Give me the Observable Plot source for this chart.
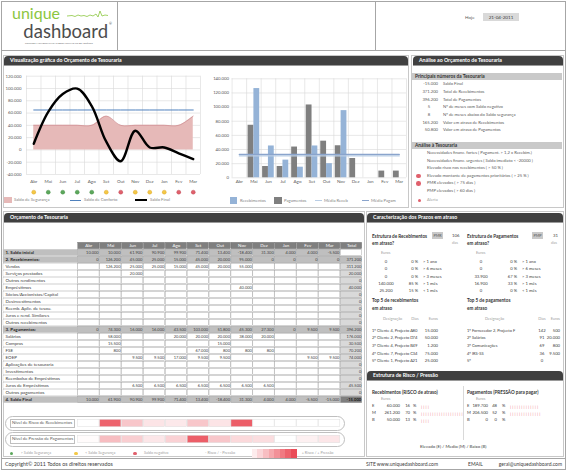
<!DOCTYPE html>
<html lang="pt"><head><meta charset="utf-8">
<script src="https://cdn.jsdelivr.net/npm/d3@7"></script>
<script src="https://cdn.jsdelivr.net/npm/@observablehq/plot@0.6"></script>
<style>
html,body{margin:0;padding:0;background:#fff}
#root{position:relative;width:567px;height:471px;overflow:hidden;font-family:Lato,"Open Sans",sans-serif;color:#404040;background:#fff}
.a{position:absolute;white-space:nowrap;line-height:1}
.p{position:absolute;box-sizing:border-box}
.p svg{overflow:visible;display:block;max-width:none !important}
</style></head><body><div id="root"></div>
<script>
// ---------- DATA ----------
const months = ["Abr","Mai","Jun","Jul","Ago","Set","Out","Nov","Dez","Jan","Fev","Mar"];
const tableCols = ["Abr","Mai","Jun","Jul","Ago","Set","Out","Nov","Dez","Jan","Fev","Mar","Total"];
const saldoFinal = [10000, 61900, 90900, 99900, 71400, 13400, -18400, 31300, 4000, 4000, -5500, -15000];
const saldoInicial = [10000, 10000, 61900, 90900, 99900, 71400, 13400, -18400, 31300, 4000, 4000, -5500];
const saldoSeguranca = [40000, 40000, 40000, 40000, 40000, 55000, 40000, 40000, 40000, 40000, 40000, 55000];
const saldoConforto = [65000, 65000, 65000, 65000, 65000, 65000, 65000, 65000, 65000, 65000, 65000, 65000];
const recebimentos = [0, 126200, 45000, 25000, 15000, 45000, 20000, 95000, 0, 0, 0, 0];
const pagamentos = [0, 74300, 16000, 16000, 43500, 103000, 51800, 45300, 27300, 0, 9500, 9500];
const mediaRecebimentos = 30900;
const mediaPagamentos = 33000;
const y1Ticks = [-40000, -20000, 0, 20000, 40000, 60000, 80000, 100000, 120000];
const y2Ticks = [0, 20000, 40000, 60000, 80000, 100000, 120000, 140000];

const N = null;
const vendas = [N, 126200, 25000, 25000, 15000, 45000, 20000, 55000, N, N, N, N];
const servicosPrestados = [N, N, 20000, N, N, N, N, N, N, N, N, N];
const emprestimos = [N, N, N, N, N, N, N, 40000, N, N, N, N];
const salarios = [N, 58000, N, N, 20000, 20000, 20000, 38000, 20000, N, N, N];
const compras = [N, 15500, N, N, N, N, 15000, N, N, N, N, N];
const fse = [N, 800, N, N, N, 67000, 800, 800, 800, N, N, N];
const eoep = [N, N, 9500, 9500, 17000, 9500, 9500, N, N, N, 9500, 9500];
const jurosEmprestimos = [N, N, 6500, 6500, 6500, 6500, 6500, 6500, 6500, N, N, N];
const vazio = [N, N, N, N, N, N, N, N, N, N, N, N];
const rowLabels = ["1. Saldo inicial","2. Recebimentos:","Vendas","Serviços prestados","Outros rendimentos","Empréstimos","Sócios/Accionistas/Capital","Desinvestimentos","Reemb. Aplic. de tesou.","Juros e rend. Similares","Outros recebimentos","3. Pagamentos:","Salários","Compras","FSE","EOEP","Aplicações de tesouraria","Investimentos","Reembolso de Empréstimos","Juros de Empréstimos","Outros pagamentos","4. Saldo Final"];
const rowValues = [saldoInicial, recebimentos, vendas, servicosPrestados, vazio, emprestimos, vazio, vazio, vazio, vazio, vazio, pagamentos, salarios, compras, fse, eoep, vazio, vazio, vazio, jurosEmprestimos, vazio, saldoFinal];
const rowTotals = [N, 371200, 311200, 20000, 0, 40000, 0, 0, 0, 0, 0, 396200, 176000, 30500, 70200, 74000, 0, 0, 0, 45500, 0, -15000];
const mainRows = [0, 1, 11, 21];

const riscoRecebimentos = [0, 0.82, 0.3, 0.14, 0.12, 0.3, 0.14, 0.85, 0, 0, 0, 0];
const pressaoPagamentos = [0.02, 0.35, 0.26, 0.13, 0.24, 0.85, 0.3, 0.2, 0.18, 0, 0.08, 0.13];

const principaisValores = [-15000, 371200, 396200, 5, 8, 165200, 50800];
const principaisLabels = ["Saldo Final","Total de Recebimentos","Total de Pagamentos","Nº de meses com Saldo negativo","Nº de meses abaixo do Saldo segurança","Valor em atraso de Recebimentos","Valor em atraso de Pagamentos"];
const analiseLabels = ["Necessidades financ. fortes ( Pagament. > 1,2 x Recebim.)","Necessidades financ. urgentes ( Saldo imediato < -20000 )","Elevado risco nos recebimentos ( > 50 % )","Elevado montante de pagamentos prioritários ( > 25 % )","PMR elevados ( > 75 dias )","PMP elevados ( > 60 dias )"];
const analiseAlerta = [false, false, false, true, true, false];
const prazosLabels = ["> 1 ano","> 6 meses","> 3 meses","> 1 mês","< 1 mês"];
const prazosRecebEuros = [0, 0, 0, 140000, 25200];
const prazosRecebPct = [0, 0, 0, 85, 15];
const prazosPagEuros = [0, 0, 33900, 16900, 0];
const prazosPagPct = [0, 0, 67, 33, 0];
const pmr = 106, pmp = 31;
const top5RecebNomes = ["1º Cliente 4, Projecto A","2º Cliente 2, Projecto D","3º Cliente 4, Projecto B","4º Cliente 7, Projecto C","5º Cliente 1, Projecto A"];
const top5RecebDias = [80, 74, 49, 34, 21];
const top5RecebEuros = [15000, 50000, 1200, 75000, 25000];
const top5PagNomes = ["1º Fornecedor 2, Projecto F","2º Salários","3º Comunicações","4º IRS-SS","5º"];
const top5PagDias = [142, 91, 69, 36, 0];
const top5PagEuros = [500, 20000, 800, 9500, N];
const niveis = ["E","M","B"];
const riscoRecebEuros = [60000, 261200, 50000];
const riscoRecebPct = [16, 70, 13];
const pressaoPagEuros = [189700, 206500, 0];
const pressaoPagPct = [48, 52, 0];

// ---------- HELPERS ----------
const loc = d3.formatLocale({decimal: ",", thousands: ".", grouping: [3], currency: ["", "€"], minus: "-"});
const fmt = loc.format(",");
const root = document.getElementById("root");
function T(x, y, s, o = {}) {
  const e = document.createElement("div");
  e.className = "a";
  e.textContent = s;
  e.style.left = x + "px";
  e.style.top = y + "px";
  e.style.fontSize = (o.fs || 4.3) + "px";
  e.style.color = o.c || "#404040";
  if (o.b) e.style.fontWeight = "bold";
  if (o.ls) e.style.letterSpacing = o.ls + "px";
  const ax = o.a === "end" ? "-100%" : o.a === "middle" ? "-50%" : "0";
  e.style.transform = `translate(${ax},-50%)`;
  root.appendChild(e);
  return e;
}
function B(x, y, w, h, css = {}) {
  const e = document.createElement("div");
  e.className = "p";
  Object.assign(e.style, {left: x + "px", top: y + "px", width: w + "px", height: h + "px"}, css);
  root.appendChild(e);
  return e;
}
function H(x, y, w, text) {
  B(x, y, w, 10, {background: "#404040", borderRadius: "4px 4px 0 0", borderBottom: "1px solid #9a9a9a"});
  T(x + 6, y + 5, text, {fs: 5.2, b: true, c: "#fff"});
}
function P(x, y, svg) {
  const w = +svg.getAttribute("width"), h = +svg.getAttribute("height");
  const e = B(x, y, w, h, {overflow: "visible"});
  svg.style.maxWidth = "none";
  svg.style.width = w + "px";
  svg.style.height = h + "px";
  e.appendChild(svg);
}
const plotStyle = {fontFamily: "Lato, sans-serif", fontSize: "4.3px", color: "#595959", background: "none", overflow: "visible"};
const idx = months.map((m, i) => i);

// ---------- FRAMES / HEADER ----------
B(1, 1, 565, 469, {border: "1px solid #a6a6a6"});
B(1, 50, 565, 1, {background: "#a6a6a6"});
B(117, 1, 1, 50, {background: "#a6a6a6"});
B(375, 1, 1, 50, {background: "#a6a6a6"});
B(3, 55, 406, 153, {border: "1px solid #c8c8c8"});
B(411, 55, 153, 153, {border: "1px solid #c8c8c8"});
B(3, 211, 362, 246, {border: "1px solid #c8c8c8"});
B(366, 211, 198, 246, {border: "1px solid #c8c8c8"});
B(1, 458, 565, 1, {background: "#a6a6a6"});

// logo
T(12, 12.5, "unique", {fs: 16, c: "#8cc63f"});
T(108, 31, "dashboard", {fs: 18.5, c: "#4d4d4d", a: "end"});
T(109, 25, "®", {fs: 3.5, c: "#4d4d4d"});
T(25, 42.5, "SOLUÇÕES INOVADORAS PARA O DESENVOLVIMENTO DE NEGÓCIOS", {fs: 2.1, c: "#666"});
const logoSvg = d3.create("svg").attr("width", 42).attr("height", 10);
logoSvg.append("path").attr("d", "M0,7 L5,6.5 L8,7.5 L11,6 L14,7 L17,6.5 L20,7.5 L23,6 L26,7 L29,5 L31,8 L33,2 L35,7 L38,6 L41,6.5").attr("fill", "none").attr("stroke", "#8cc63f").attr("stroke-width", 0.8);
P(67, 9, logoSvg.node());
T(465, 17, "Hoje", {fs: 4.6, c: "#595959"});
B(483, 13, 36, 8, {background: "#d9d9d9"});
T(501, 17, "21-04-2011", {fs: 4.6, c: "#404040", a: "middle"});

// section headers
H(4, 56, 404, "Visualização gráfica do Orçamento de Tesouraria");
H(413, 56, 150, "Análise ao Orçamento de Tesouraria");
H(4, 213, 360, "Orçamento de Tesouraria");
H(367, 213, 196, "Caracterização dos Prazos em  atraso");
H(367, 371, 196, "Estrutura de Risco / Pressão");

// ---------- CHART 1 ----------
const statusColor = i => saldoFinal[i] < 0 ? "#e0606c" : saldoFinal[i] < saldoSeguranca[i] ? "#f3c846" : "#5ca75c";
const statusStroke = i => saldoFinal[i] < 0 ? "#b8404c" : saldoFinal[i] < saldoSeguranca[i] ? "#d9a020" : "#3f8a3f";
const chart1 = Plot.plot({
  width: 205, height: 130, marginLeft: 26, marginRight: 5, marginTop: 7.7, marginBottom: 24,
  style: plotStyle,
  x: {domain: [-0.5, 11.5], axis: null},
  y: {domain: [-40000, 120000], ticks: y1Ticks, tickFormat: fmt, tickSize: 0, tickPadding: 5, label: null},
  color: {type: "identity"},
  marks: [
    Plot.gridY(y1Ticks, {stroke: "#d9d9d9", strokeOpacity: 1, strokeWidth: 0.6}),
    Plot.gridX(d3.range(-0.5, 12, 1), {stroke: "#d9d9d9", strokeOpacity: 1, strokeWidth: 0.6}),
    Plot.areaY(idx, {x: i => i, y: i => saldoSeguranca[i], curve: "catmull-rom", fill: "#e6b9b8"}),
    Plot.lineY(idx, {x: i => i, y: i => saldoSeguranca[i], curve: "catmull-rom", stroke: "#c9868c", strokeWidth: 0.6}),
    Plot.lineY(idx, {x: i => i, y: i => saldoConforto[i], stroke: "#4f81bd", strokeWidth: 1}),
    Plot.lineY(idx, {x: i => i, y: i => saldoFinal[i], curve: "catmull-rom", stroke: "#000", strokeWidth: 2.4}),
    Plot.text(idx, {x: i => i, frameAnchor: "bottom", dy: 8, text: i => months[i], fontSize: 4.5, fill: "#595959"}),
    Plot.dot(idx, {x: i => i, frameAnchor: "bottom", dy: 17.7, r: 2, fill: statusColor, stroke: statusStroke, strokeWidth: 0.4})
  ]
});
P(0, 68, chart1);

// legend chart 1
B(4, 197, 8, 6, {background: "#e6b9b8"});
T(14, 200, "Saldo de Segurança", {fs: 4.2, c: "#7f7f7f"});
B(70, 199.5, 11, 1, {background: "#4f81bd"});
T(84, 200, "Saldo de Conforto", {fs: 4.2, c: "#7f7f7f"});
B(135, 199, 12, 2.2, {background: "#000"});
T(150, 200, "Saldo Final", {fs: 4.2, c: "#7f7f7f"});

// ---------- CHART 2 ----------
const chart2 = Plot.plot({
  width: 203, height: 130, marginLeft: 26.6, marginRight: 2, marginTop: 10.3, marginBottom: 20.7,
  style: plotStyle,
  x: {domain: [-0.5, 11.5], axis: null},
  y: {domain: [0, 140000], ticks: y2Ticks, tickFormat: fmt, tickSize: 0, tickPadding: 3, label: null},
  marks: [
    Plot.gridY(y2Ticks, {stroke: "#d9d9d9", strokeOpacity: 1, strokeWidth: 0.6}),
    Plot.gridX(d3.range(-0.5, 12, 1), {stroke: "#d9d9d9", strokeOpacity: 1, strokeWidth: 0.6}),
    Plot.rectY(idx, {x1: i => i - 0.4, x2: i => i, y: i => pagamentos[i], fill: "#7f7f7f"}),
    Plot.rectY(idx, {x1: i => i, x2: i => i + 0.4, y: i => recebimentos[i], fill: "#95b3d7"}),
    Plot.lineY(idx, {x: i => i, y: () => mediaPagamentos, stroke: "#8aa4cc", strokeWidth: 1.4}),
    Plot.lineY(idx, {x: i => i, y: () => mediaRecebimentos, stroke: "#b9cde5", strokeWidth: 1.2}),
    Plot.text(idx, {x: i => i, frameAnchor: "bottom", dy: 5, text: i => months[i], fontSize: 4.5, fill: "#595959"})
  ]
});
P(205, 68, chart2);

// legend chart 2
B(230, 197, 7, 7, {background: "#95b3d7"});
T(240, 200.5, "Recebimentos", {fs: 4.2, c: "#7f7f7f"});
B(274, 197, 8, 7, {background: "#7f7f7f"});
T(284, 200.5, "Pagamentos", {fs: 4.2, c: "#7f7f7f"});
B(315, 200, 7, 1, {background: "#b9cde5"});
T(324, 200.5, "Média Receb", {fs: 4.2, c: "#7f7f7f"});
B(362, 200, 7, 1, {background: "#8aa4cc"});
T(371, 200.5, "Média Pagam", {fs: 4.2, c: "#7f7f7f"});

// ---------- RIGHT UPPER PANEL ----------
B(412, 72.5, 150, 7, {background: "#c9c9c9"});
T(415, 76, "Principais números da Tesouraria", {fs: 4.8, b: true, c: "#333"});
principaisValores.forEach((v, i) => {
  const y = 84.3 + i * 7.68;
  if (Math.abs(v) < 100) T(429, y, fmt(v), {fs: 4.2, c: "#595959", a: "middle"});
  else T(438, y, fmt(v), {fs: 4.2, c: "#595959", a: "end"});
  T(443, y, principaisLabels[i], {fs: 4.2, c: "#595959"});
});
B(412, 141.5, 150, 7, {background: "#c9c9c9"});
T(415, 145, "Análise à Tesouraria", {fs: 4.8, b: true, c: "#333"});
analiseLabels.forEach((s, i) => {
  const y = 153.3 + i * 7.5;
  if (analiseAlerta[i]) B(416, y - 2.3, 4.6, 4.6, {background: "#e0606c", borderRadius: "50%"});
  T(427, y, s, {fs: 4.2, c: "#595959"});
});
B(417.5, 198.5, 3, 3, {background: "#e0606c", borderRadius: "50%"});
T(427, 200, "Alerta", {fs: 4, c: "#a0a0a0"});

// ---------- TABLE ----------
const yKeys = ["hdr", ...rowLabels];
const isMain = i => mainRows.includes(i);
const cells = [];
rowLabels.forEach((lab, r) => {
  for (let j = 0; j < 13; j++) {
    const value = j < 12 ? rowValues[r][j] : rowTotals[r];
    let fill;
    if (isMain(r)) fill = j === 12 ? (r === 0 ? "#ffffff" : r === 21 ? "#7f7f7f" : "#bfbfbf") : "#bfbfbf";
    else fill = j === 12 ? "#d9d9d9" : "#ffffff";
    cells.push({row: lab, r, j, value, fill, main: isMain(r)});
  }
});
const rowIdx = rowLabels.map((d, i) => i);
const table = Plot.plot({
  width: 365, height: 182, marginLeft: 3, marginRight: 3, marginTop: 4, marginBottom: 1,
  style: plotStyle,
  x: {domain: [-3.4, 13], axis: null},
  y: {type: "band", domain: yKeys, padding: 0, axis: null},
  color: {type: "identity"},
  marks: [
    Plot.barX(rowIdx, {x1: -3.4, x2: 0, y: i => rowLabels[i], fill: i => isMain(i) ? "#bfbfbf" : "#ffffff", stroke: "#c4c4c4", strokeWidth: 0.4, insetTop: 0.4, insetBottom: 0.4}),
    Plot.barX(tableCols.map((c, j) => j), {x1: j => j, x2: j => j + 1, y: () => "hdr", fill: "#7f7f7f", stroke: "#5f5f5f", strokeWidth: 0.3, inset: 0.3}),
    Plot.barX(cells, {x1: d => d.j, x2: d => d.j + 1, y: "row", fill: "fill", stroke: "#a0a0a0", strokeWidth: 0.45, inset: 0.25}),
    Plot.text(tableCols, {x: (d, j) => j + 0.5, y: () => "hdr", text: d => d, fill: "#fff", fontSize: 4.4}),
    Plot.text(cells.filter(d => d.value != null && !(d.r === 21 && d.j === 12)), {x: d => d.j + 1, y: "row", text: d => fmt(d.value), textAnchor: "end", dx: -1.2, fontSize: 4, fill: "#404040"}),
    Plot.text(cells.filter(d => d.r === 21 && d.j === 12), {x: d => d.j + 1, y: "row", text: d => fmt(d.value), textAnchor: "end", dx: -1.2, fontSize: 4.2, fontWeight: "bold", fill: "#1a1a1a"}),
    Plot.text(rowIdx.filter(i => !isMain(i)), {y: i => rowLabels[i], text: i => rowLabels[i], frameAnchor: "left", textAnchor: "start", dx: 2, fontSize: 4.5, fill: "#404040"}),
    Plot.text(rowIdx.filter(i => isMain(i)), {y: i => rowLabels[i], text: i => rowLabels[i], frameAnchor: "left", textAnchor: "start", dx: 2, fontSize: 4.5, fontWeight: "bold", fill: "#262626"})
  ]
});
P(0, 230, table);

// ---------- HEAT STRIPS ----------
B(5, 415.5, 340, 15, {border: "1px solid #bfbfbf", borderRadius: "7.5px"});
B(5, 431.5, 340, 15, {border: "1px solid #bfbfbf", borderRadius: "7.5px"});
B(10, 418.5, 65, 9, {border: "0.8px solid #bfbfbf", background: "#fff"});
B(10, 434.5, 65, 9, {border: "0.8px solid #bfbfbf", background: "#fff"});
T(12, 423, "Nível de Risco de Recebimentos", {fs: 4.3, c: "#595959"});
T(12, 439, "Nível de Pressão de Pagamentos", {fs: 4.3, c: "#595959"});
const stripCells = [];
idx.forEach(j => {
  stripCells.push({k: "risco", j, v: riscoRecebimentos[j]});
  stripCells.push({k: "pressao", j, v: pressaoPagamentos[j]});
});
const heatColor = d3.interpolateRgb("#ffffff", "#e9414d");
const strips = Plot.plot({
  width: 345, height: 32, marginLeft: 77.4, marginRight: 4.9, marginTop: 0, marginBottom: 0,
  style: plotStyle,
  x: {domain: [0, 12], axis: null},
  y: {type: "band", domain: ["risco", "pressao"], range: [4, 28], paddingInner: 0.5, paddingOuter: 0, axis: null},
  color: {type: "linear", domain: [0, 1], range: ["#ffffff", "#e9414d"]},
  marks: [
    Plot.barX(stripCells, {x1: d => d.j, x2: d => d.j + 1, y: "k", fill: "v", stroke: "#dedede", strokeWidth: 0.5, inset: 0.3})
  ]
});
P(0, 415, strips);

// legend row
[["> Saldo Segurança", "#5ca75c", 11.7], ["< Saldo Segurança", "#f3c846", 76], ["Saldo negativo", "#e0606c", 135]].forEach(([s, c, x]) => {
  B(x - 1.8, 451.5, 3.6, 3.6, {background: c, borderRadius: "50%"});
  T(x + 9, 453.3, s, {fs: 3.8, c: "#a0a0a0"});
});
T(205, 453.3, "- Risco / - Pressão", {fs: 3.8, c: "#a0a0a0"});
d3.range(8).forEach(k => B(251.7 + k * 5.62, 449.3, 5.7, 8.4, {background: heatColor(0.1 + k * 0.12)}));
T(301.7, 453.3, "+ Risco / + Pressão", {fs: 3.8, c: "#a0a0a0"});

// ---------- RIGHT BOTTOM PANEL ----------
T(372, 235.5, "Estrutura de Recebimentos", {fs: 4.6, b: true, c: "#333"});
T(372, 243, "em atraso?", {fs: 4.6, b: true, c: "#333"});
B(432, 232, 11, 7, {background: "#c9c9c9"});
T(437.5, 235.5, "PMR", {fs: 3.8, c: "#595959", a: "middle"});
T(452, 235.5, String(pmr), {fs: 4.3, c: "#404040"});
T(452, 244, "dias", {fs: 3.4, c: "#a0a0a0"});
T(467, 235.5, "Estrutura de Pagamentos", {fs: 4.6, b: true, c: "#333"});
T(467, 243, "em atraso?", {fs: 4.6, b: true, c: "#333"});
B(532, 232, 11, 7, {background: "#c9c9c9"});
T(537.5, 235.5, "PMP", {fs: 3.8, c: "#595959", a: "middle"});
T(553, 235.5, String(pmp), {fs: 4.3, c: "#404040"});
T(551, 244, "dias", {fs: 3.4, c: "#a0a0a0"});
T(381, 253, "Euros", {fs: 3.8, c: "#a0a0a0"});
T(476, 253, "Euros", {fs: 3.8, c: "#a0a0a0"});
prazosLabels.forEach((s, i) => {
  const y = 261.7 + i * 7.4;
  T(386, y, fmt(prazosRecebEuros[i]), {fs: 4.2, c: "#404040", a: "middle"});
  T(418, y, prazosRecebPct[i] + " %", {fs: 4.2, c: "#404040", a: "end"});
  T(423, y, s, {fs: 4.2, c: "#404040"});
  T(481, y, fmt(prazosPagEuros[i]), {fs: 4.2, c: "#404040", a: "middle"});
  T(517, y, prazosPagPct[i] + " %", {fs: 4.2, c: "#404040", a: "end"});
  T(522, y, s, {fs: 4.2, c: "#404040"});
});
T(372, 300, "Top 5 de recebimentos", {fs: 4.6, b: true, c: "#333"});
T(372, 308, "em atraso", {fs: 4.6, b: true, c: "#333"});
T(467, 300, "Top 5 de pagamentos", {fs: 4.6, b: true, c: "#333"});
T(467, 308, "em atraso", {fs: 4.6, b: true, c: "#333"});
T(383, 319, "Designação", {fs: 3.8, c: "#a0a0a0"});
T(415, 319, "Dias", {fs: 3.8, c: "#a0a0a0", a: "middle"});
T(438, 319, "Euros", {fs: 3.8, c: "#a0a0a0", a: "end"});
T(485, 319, "Designação", {fs: 3.8, c: "#a0a0a0"});
T(542, 319, "Dias", {fs: 3.8, c: "#a0a0a0", a: "middle"});
T(560, 319, "Euros", {fs: 3.8, c: "#a0a0a0", a: "end"});
top5RecebNomes.forEach((s, i) => {
  const y = 330.5 + i * 7.7;
  T(372, y, s, {fs: 4, c: "#404040"});
  T(415, y, String(top5RecebDias[i]), {fs: 4.2, c: "#404040", a: "middle"});
  T(438, y, fmt(top5RecebEuros[i]), {fs: 4.2, c: "#404040", a: "end"});
  T(467, y, top5PagNomes[i], {fs: 4, c: "#404040"});
  T(542, y, String(top5PagDias[i]), {fs: 4.2, c: "#404040", a: "middle"});
  if (top5PagEuros[i] != null) T(560, y, fmt(top5PagEuros[i]), {fs: 4.2, c: "#404040", a: "end"});
});
T(372, 391.7, "Recebimentos (RISCO de atraso)", {fs: 4.6, b: true, c: "#333"});
T(467, 391.7, "Pagamentos (PRESSÃO para pagar)", {fs: 4.6, b: true, c: "#333"});
T(381, 399, "Euros", {fs: 3.8, c: "#a0a0a0"});
T(476, 399, "Euros", {fs: 3.8, c: "#a0a0a0"});
B(463, 386, 0.8, 54, {background: "#d9d9d9"});
niveis.forEach((n, i) => {
  const y = 406 + i * 7;
  T(372, y, n, {fs: 4.2, c: "#404040"});
  T(400, y, fmt(riscoRecebEuros[i]), {fs: 4.2, c: "#404040", a: "end"});
  T(410, y, String(riscoRecebPct[i]), {fs: 4.2, c: "#404040", a: "end"});
  T(413, y, "%", {fs: 4.2, c: "#404040"});
  T(421, y, "|".repeat(Math.round(riscoRecebPct[i] / 3.7)), {fs: 4.6, c: "#f08a8f", ls: 1.1});
  T(467, y, n, {fs: 4.2, c: "#404040"});
  T(488, y, fmt(pressaoPagEuros[i]), {fs: 4.2, c: "#404040", a: "end"});
  T(497, y, String(pressaoPagPct[i]), {fs: 4.2, c: "#404040", a: "end"});
  T(502, y, "%", {fs: 4.2, c: "#404040"});
  T(510, y, "|".repeat(Math.round(pressaoPagPct[i] / 3.7)), {fs: 4.6, c: "#f08a8f", ls: 1.1});
});
T(420, 446.7, "Elevado (E) / Medio (M) / Baixo (B)", {fs: 4.4, c: "#404040"});

// ---------- FOOTER ----------
T(5, 465, "Copyright© 2011 Todos os direitos reservados", {fs: 5.3, c: "#404040"});
T(366, 464, "SITE", {fs: 5, c: "#404040"});
T(438, 464, "www.uniquedashboard.com", {fs: 5, c: "#404040", a: "end"});
T(468, 464, "EMAIL", {fs: 5, c: "#404040"});
T(562, 464, "geral@uniquedashboard.com", {fs: 5, c: "#404040", a: "end"});
</script></body></html>
